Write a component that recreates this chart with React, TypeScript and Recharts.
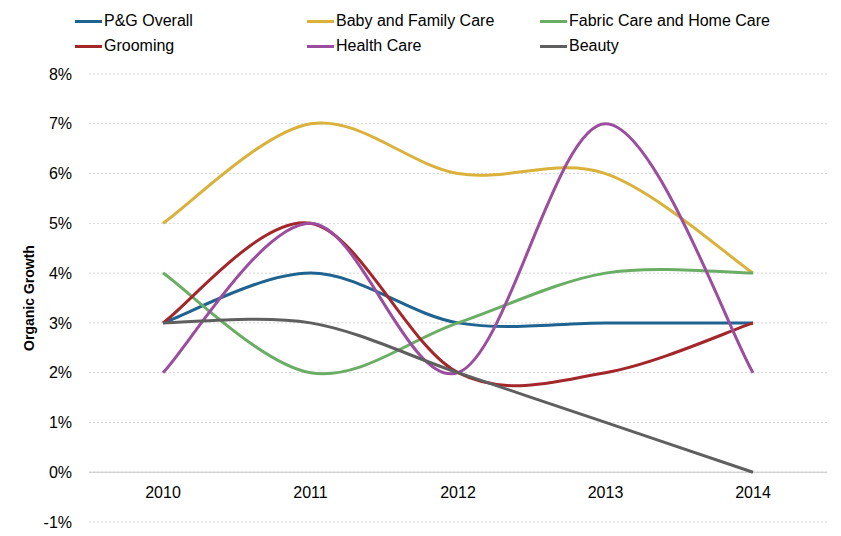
import React from 'react';
import { LineChart, Line, XAxis, YAxis, CartesianGrid, ReferenceLine } from 'recharts';

document.body.style.margin = '0';

const years = ['2010', '2011', '2012', '2013', '2014'];
const pgOverall = [3, 4, 3, 3, 3];
const babyFamily = [5, 7, 6, 6, 4];
const fabricHome = [4, 2, 3, 4, 4];
const grooming = [3, 5, 2, 2, 3];
const healthCare = [2, 5, 2, 7, 2];
const beauty = [3, 3, 2, 1, 0];
const yTicks = [-1, 0, 1, 2, 3, 4, 5, 6, 7, 8];

const series = [
  { key: 'pg', name: 'P&G Overall', values: pgOverall, color: '#1f6391' },
  { key: 'baby', name: 'Baby and Family Care', values: babyFamily, color: '#d9b13b' },
  { key: 'fabric', name: 'Fabric Care and Home Care', values: fabricHome, color: '#6aad64' },
  { key: 'grooming', name: 'Grooming', values: grooming, color: '#a3262a' },
  { key: 'health', name: 'Health Care', values: healthCare, color: '#9b4d9f' },
  { key: 'beauty', name: 'Beauty', values: beauty, color: '#5f5f5f' },
];

const data = years.map((year, i) => {
  const row: Record<string, any> = { year };
  series.forEach((s) => { row[s.key] = s.values[i]; });
  return row;
});

const W = 841;
const H = 536;
const TOP = 74;
const BOTTOM = 14;
const X_AXIS_H = 1;
const PLOT_H = H - TOP - BOTTOM;
const Y_MIN = -1;
const Y_MAX = 8;
const FONT = 'Arial, "Liberation Sans", sans-serif';

// Excel-like smoothed line (Catmull-Rom style bezier)
const excelSmooth = (context: any) => {
  let pts: [number, number][] = [];
  return {
    areaStart() {},
    areaEnd() {},
    lineStart() { pts = []; },
    point(x: number, y: number) { pts.push([+x, +y]); },
    lineEnd() {
      const n = pts.length;
      if (!n) return;
      context.moveTo(pts[0][0], pts[0][1]);
      for (let i = 0; i < n - 1; i++) {
        const p0 = pts[Math.max(i - 1, 0)];
        const p1 = pts[i];
        const p2 = pts[i + 1];
        const p3 = pts[Math.min(i + 2, n - 1)];
        context.bezierCurveTo(
          p1[0] + (p2[0] - p0[0]) / 6, p1[1] + (p2[1] - p0[1]) / 6,
          p2[0] - (p3[0] - p1[0]) / 6, p2[1] - (p3[1] - p1[1]) / 6,
          p2[0], p2[1],
        );
      }
    },
  };
};

// category labels sit just under the 0% line, like Excel's axis crossing
const zeroY = TOP + (PLOT_H * (Y_MAX - 0)) / (Y_MAX - Y_MIN);

const YearTick = (props: any) => {
  const { x, payload } = props;
  return (
    <text x={x} y={zeroY + 20} dy="0.355em" textAnchor="middle" fontSize={16} fontFamily={FONT} fill="#000">
      {payload.value}
    </text>
  );
};

const ChartLegend = () => (
  <div
    style={{
      position: 'absolute', left: 75, top: 11, width: 730,
      display: 'grid', gridTemplateColumns: '232px 233px 265px', rowGap: 5,
      fontFamily: FONT, fontSize: 16, color: '#000',
    }}
  >
    {series.map((s) => (
      <div key={s.key} style={{ display: 'flex', alignItems: 'center', height: 20, whiteSpace: 'nowrap' }}>
        <span style={{ display: 'inline-block', width: 27, height: 3, background: s.color, marginRight: 2 }} />
        <span>{s.name}</span>
      </div>
    ))}
  </div>
);

export default function App() {
  return (
    <div style={{ position: 'relative', width: W, height: H, background: '#fff' }}>
      <LineChart width={W} height={H} data={data} margin={{ top: TOP, right: 14, bottom: BOTTOM - X_AXIS_H, left: 0 }}>
        <CartesianGrid vertical={false} stroke="#d4d4d4" strokeDasharray="2 2" />
        <XAxis
          dataKey="year"
          height={X_AXIS_H}
          axisLine={false}
          tickLine={false}
          padding={{ left: 74, right: 74 }}
          tick={YearTick}
          interval={0}
        />
        <YAxis
          width={89}
          domain={[Y_MIN, Y_MAX]}
          ticks={yTicks}
          interval={0}
          axisLine={false}
          tickLine={false}
          tickMargin={11}
          tickFormatter={(v: number) => `${v}%`}
          tick={{ fontSize: 16, fontFamily: FONT, fill: '#000' }}
          label={{ value: 'Organic Growth', angle: -90, position: 'insideLeft', offset: 29, style: { fontSize: 14, fontWeight: 'bold', fontFamily: FONT, fill: '#000', textAnchor: 'middle' } }}
        />
        <ReferenceLine y={0} stroke="#c6c6c6" strokeWidth={1} />
        {series.map((s) => (
          <Line
            key={s.key}
            dataKey={s.key}
            name={s.name}
            type={excelSmooth as any}
            stroke={s.color}
            strokeWidth={3}
            dot={false}
            activeDot={false}
            isAnimationActive={false}
          />
        ))}
      </LineChart>
      <ChartLegend />
    </div>
  );
}
